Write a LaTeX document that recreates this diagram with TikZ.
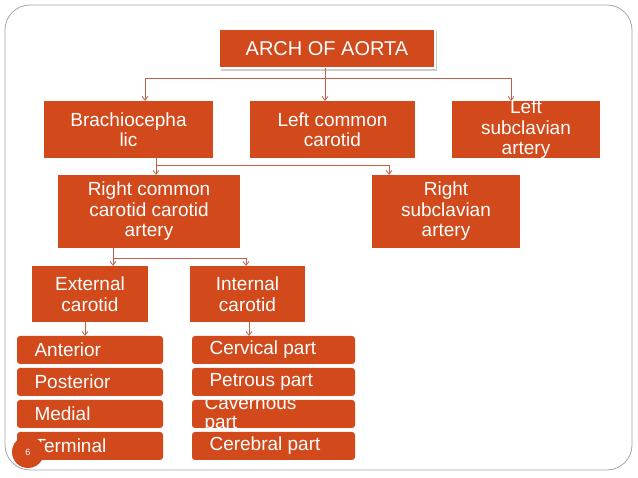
\documentclass[tikz,border=0pt]{standalone}
\usepackage{fontspec}
\setmainfont{Liberation Sans}
\usetikzlibrary{arrows.meta}
\definecolor{box}{HTML}{D2491B}
\definecolor{ln}{HTML}{C0604A}
\begin{document}
\begin{tikzpicture}[x=1pt,y=-1pt,
  bx/.style={fill=box,draw=none,text=white,align=center,inner sep=0pt},
  lt/.style={draw=ln,line width=0.8pt},
  ar/.style={lt,-{Straight Barb[length=4pt,width=6pt]}},
  ctxt/.style={path picture={\node[text=white,align=center,font=\fontsize{19}{20.5}\selectfont] at (path picture bounding box.center) {#1};}},
  ltxt/.style={path picture={\node[text=white,anchor=west,font=\fontsize{19}{20.5}\selectfont] at ([xshift=14pt]path picture bounding box.west) {#1};}},
  item/.style={fill=box,rounded corners=3pt,draw=none}]
\useasboundingbox (0,0) rectangle (638,478);
\fill[white] (0,0) rectangle (638,478);
\draw[gray!70,line width=0.8pt,rounded corners=25pt] (5,5) rectangle (632,470);
% top
\fill[gray!40] (221,31) rectangle (437,71);
\path[fill=box,draw=white,line width=1.5pt] (219,29) rectangle (435,68);
\node[text=white,font=\fontsize{20}{22}\selectfont] (arch) at (327,48.5) {ARCH OF AORTA};
\path[bx,ctxt={Brachiocepha\\lic}] (44,101) rectangle (213,158) coordinate (b2);
\path[bx,ctxt={Left common\\carotid}] (250,101) rectangle (415,158);
\path[bx,ctxt={Left\\subclavian\\artery}] (452,101) rectangle (600,158);
\path[bx,ctxt={Right common\\carotid carotid\\artery}] (58,175) rectangle (240,248);
\path[bx,ctxt={Right\\subclavian\\artery}] (372,175) rectangle (520,248);
\path[bx,ctxt={External\\carotid}] (32,266) rectangle (148,322);
\path[bx,ctxt={Internal\\carotid}] (190,266) rectangle (305,322);
\foreach \t [count=\i from 0] in {Anterior,Posterior,Medial,Terminal}
  \path[item,ltxt=\t] (17,336+32*\i) rectangle (163,364+32*\i);
\path[item,ltxt={Cervical part}] (192,336) rectangle (355,364);
\path[item,ltxt={Petrous part}] (192,368) rectangle (355,396);
\path[item,path picture={\node[text=white,anchor=west,align=left,font=\fontsize{19}{19}\selectfont] at ([xshift=9pt]path picture bounding box.west) {Cavernous\\part};}] (192,400) rectangle (355,428);
\path[item,ltxt={Cerebral part}] (192,432) rectangle (355,460);
% page number
\fill[box] (28,452) circle (16);
\node[text=white,font=\fontsize{9}{9}\selectfont\rmfamily] (pg) at (28,452) {6};
% connectors
\coordinate (a0) at (325,68);
\draw[lt] (a0) -- (325,78) coordinate (a1);
\draw[lt] (145,78) -- (511,78);
\draw[ar] (145,78) -- (145,101);
\draw[ar] (a1) -- (325,101);
\draw[ar] (511,78) -- (511,101);
\draw[lt] (156,158) -- (156,165) -- (389,165);
\draw[ar] (156,165) -- (156,175);
\draw[ar] (389,165) -- (389,175);
\draw[lt] (113,248) -- (113,258) -- (246,258);
\draw[ar] (113,258) -- (113,266);
\draw[ar] (246,258) -- (246,266);
\draw[ar] (85,322) -- (85,336);
\draw[ar] (249,322) -- (249,336);
\end{tikzpicture}
\end{document}
